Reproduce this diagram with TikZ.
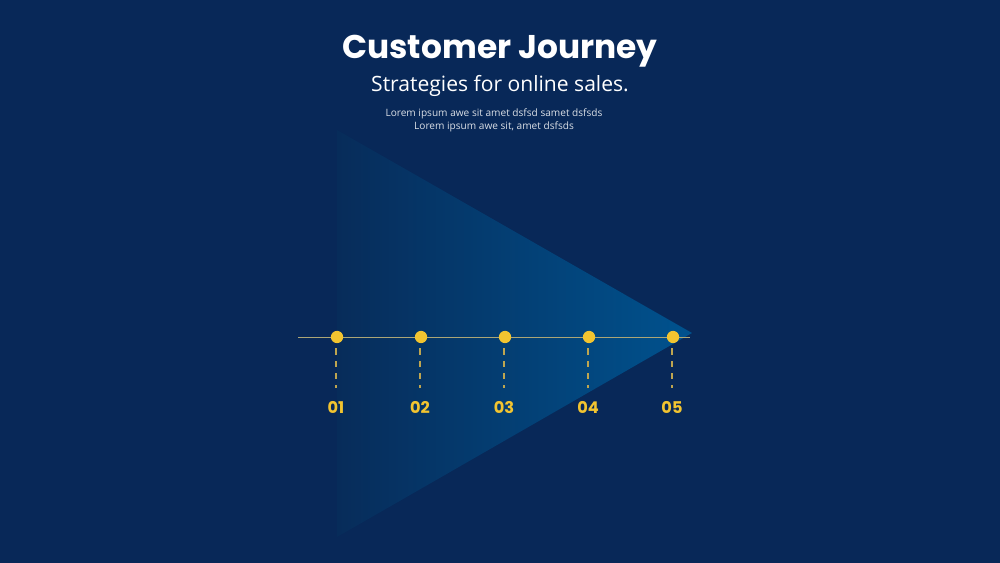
\documentclass[tikz,border=0pt]{standalone}
\usepackage{fontspec}
\setmainfont{Open Sans}
\newfontfamily\titlefont{Poppins}
\usetikzlibrary{calc}
\definecolor{bg}{RGB}{8,40,88}
\definecolor{triL}{RGB}{7,44,90}
\definecolor{triR}{RGB}{0,82,142}
\definecolor{dotc}{RGB}{242,196,48}
\definecolor{linec}{RGB}{172,166,118}
\definecolor{dashc}{RGB}{190,165,80}
\tikzset{
  dotnode/.style={circle,fill=dotc,inner sep=0pt,minimum size=7pt},
  numlabel/.style={text=dotc,font=\titlefont\fontsize{9.2}{11}\selectfont\bfseries,inner sep=0pt,anchor=base},
  guide/.style={dashc,line width=0.6pt,dash pattern=on 3.5pt off 3.5pt},
}
\begin{document}
\begin{tikzpicture}[x=0.02cm,y=-0.02cm]
\fill[bg] (0,0) rectangle (1000,563);
\useasboundingbox (0,0) rectangle (1000,563);
% triangle
\shade[left color=triL,right color=triR] (337,130) -- (692,333) -- (337,537) -- cycle;
% texts
\node[text=white,font=\titlefont\fontsize{18.7}{22}\selectfont\bfseries,inner sep=0pt] (title) at (500,51) {Customer Journey};
\node[text=white,font=\fontsize{12}{15}\selectfont,inner sep=0pt] (sub) at (500,86) {Strategies for online sales.};
\node[text=white!85!bg,font=\fontsize{5.75}{7.2}\selectfont,align=center,inner sep=0pt] (lorem) at (494,120.5) {Lorem ipsum awe sit amet dsfsd samet dsfsds\\Lorem ipsum awe sit, amet dsfsds};
% axis
\coordinate (axL) at (298,337);
\coordinate (axR) at (690,337);
\draw[linec,line width=0.5pt] (axL) -- (axR);
\foreach \i/\x in {1/337,2/421,3/505,4/589,5/673}{
  \node[dotnode] (d\i) at (\x,337) {};
  \coordinate (g\i) at (\x-1,388);
  \draw[guide] ($(d\i.south)+(-1,5)$) -- (g\i);
  \node[numlabel] (n\i) at (\x-1,414) {0\i};
}
\end{tikzpicture}
\end{document}
